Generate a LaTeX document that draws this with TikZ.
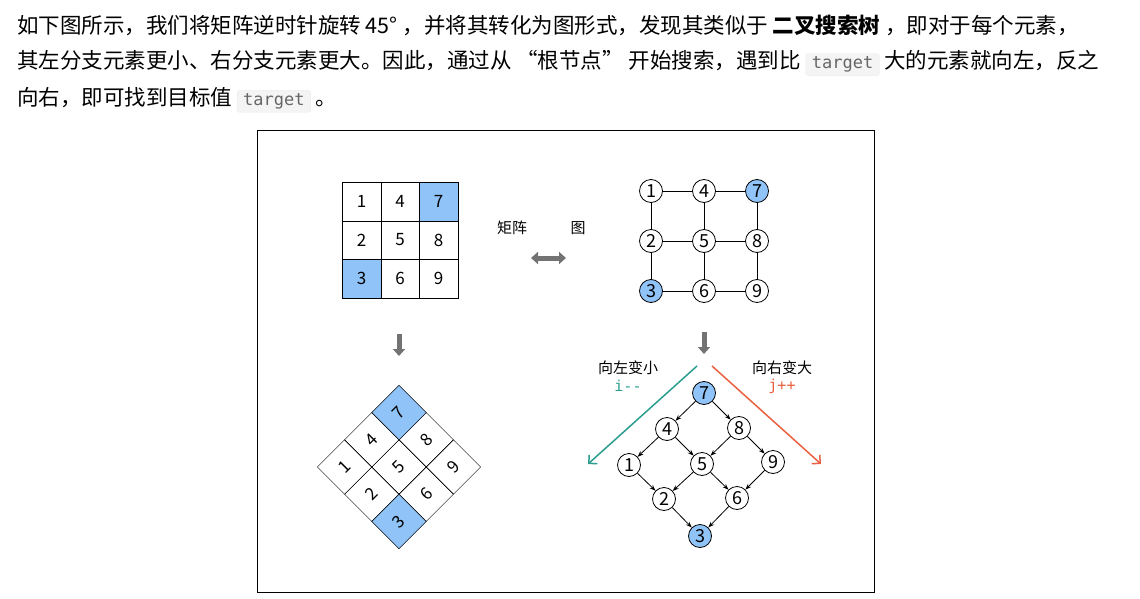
\documentclass[tikz,border=0pt]{standalone}
\usepackage{fontspec}
\setmainfont{Noto Sans CJK SC}
\newfontfamily\codefont{DejaVu Sans Mono}
\usetikzlibrary{arrows.meta,positioning}
\definecolor{hl}{HTML}{90C4F9}
\definecolor{tealc}{HTML}{2A9D8F}
\definecolor{redc}{HTML}{E9613F}
\definecolor{boxc}{HTML}{F4F4F4}
\tikzset{
  line/.style={anchor=west,inner sep=0pt,font=\fontsize{21.5}{21.5}\selectfont},
  code/.style={fill=boxc,draw=black!8,rounded corners=2pt,inner xsep=6pt,inner ysep=3pt,text=black!60,font=\codefont\fontsize{17}{17}\selectfont},
  vert/.style={circle,draw,thick,fill=white,minimum size=23pt,inner sep=0pt,font=\fontsize{18}{18}\selectfont},
  cell/.style={draw,minimum size=38.5pt,inner sep=0pt,font=\fontsize{17}{17}\selectfont},
  grayarrow/.style={-{Triangle[length=7pt,width=12pt]},line width=5pt,black!55},
  edge/.style={-{Stealth[length=6pt]},thick}
}
\begin{document}
\begin{tikzpicture}[x=1pt,y=-1pt]
\useasboundingbox (0,0) rectangle (1140,599);
% text above the picture
\node[line] (l1) at (17,25) {如下图所示，我们将矩阵逆时针旋转 45°\ ，并将其转化为图形式，发现其类似于 \textbf{二叉搜索树}\ ，即对于每个元素，};
\node[line] (l2) at (17,63) {其左分支元素更小、右分支元素更大。因此，通过从 “根节点” 开始搜索，遇到比 \tikz[baseline=(c.base)]\node[code](c){target}; 大的元素就向左，反之};
\node[line] (l3) at (17,100) {向右，即可找到目标值 \tikz[baseline=(c.base)]\node[code](c){target}; 。};
\draw[thick] (257,130) rectangle (874,592);
% matrix
\foreach \c/\r/\v in {0/0/1,1/0/4,2/0/7,0/1/2,1/1/5,2/1/8,0/2/3,1/2/6,2/2/9}
  \node[cell] (m\v) at ({361.5+38.5*\c},{201.5+38.5*\r}) {\v};
\node[cell,fill=hl] at (m7) {7};
\node[cell,fill=hl] at (m3) {3};
% labels between
\node[font=\fontsize{15}{15}\selectfont] (tm) at (512,228) {矩阵};
\node[font=\fontsize{15}{15}\selectfont] (tg) at (578,228) {图};
\draw[{Triangle[length=7pt,width=12pt]}-{Triangle[length=7pt,width=12pt]},line width=5pt,black!55] (531,258) -- (566,258);
% graph
\foreach \c/\r/\v in {0/0/1,1/0/4,2/0/7,0/1/2,1/1/5,2/1/8,0/2/3,1/2/6,2/2/9}
  \coordinate (p\v) at ({651+53*\c},{191+50*\r});
\draw[thick] (p1) -- (p7) (p2) -- (p8) (p3) -- (p9) (p1) -- (p3) (p4) -- (p6) (p7) -- (p9);
\foreach \v in {1,2,4,5,6,8,9} \node[vert] (g\v) at (p\v) {\v};
\node[vert,fill=hl] (g7) at (p7) {7};
\node[vert,fill=hl] (g3) at (p3) {3};
% down arrows
\draw[grayarrow] (399,334) -- (399,356);
\draw[grayarrow] (704,332) -- (704,354);
% rotated matrix
\begin{scope}[shift={(399,467)},rotate=45,transform shape]
\foreach \c/\r/\v in {0/0/1,1/0/4,2/0/7,0/1/2,1/1/5,2/1/8,0/2/3,1/2/6,2/2/9}
  \node[cell] (d\v) at ({-38.5+38.5*\c},{-38.5+38.5*\r}) {\v};
\node[cell,fill=hl] at (d7) {7};
\node[cell,fill=hl] at (d3) {3};
\end{scope}
% tree
\node[vert,fill=hl] (t7) at (704,393) {7};
\node[vert] (t4) at (667,429) {4};
\node[vert] (t8) at (739,428) {8};
\node[vert] (t1) at (629,465) {1};
\node[vert] (t5) at (702,464) {5};
\node[vert] (t9) at (773,462) {9};
\node[vert] (t2) at (664,499) {2};
\node[vert] (t6) at (737,498) {6};
\node[vert,fill=hl] (t3) at (700,536) {3};
\foreach \a/\b in {7/4,7/8,4/1,4/5,8/5,8/9,1/2,5/2,5/6,9/6,2/3,6/3}
  \draw[edge] (t\a) -- (t\b);
\coordinate (ls) at (697,366); \coordinate (le) at (588,464);
\coordinate (rs) at (712,366); \coordinate (re) at (821,464);
\draw[tealc,line width=1.5pt,-{Straight Barb[length=6pt]}] (ls) -- (le);
\draw[redc,line width=1.5pt,-{Straight Barb[length=6pt]}] (rs) -- (re);
\node[font=\fontsize{15}{15}\selectfont] (lt) at (628,368) {向左变小};
\node[font=\codefont\fontsize{15}{15}\selectfont,text=tealc] (lc) at (628,386) {i--};
\node[font=\fontsize{15}{15}\selectfont] (rt) at (782,368) {向右变大};
\node[font=\codefont\fontsize{15}{15}\selectfont,text=redc] (rc) at (782,386) {j++};
\end{tikzpicture}
\end{document}
